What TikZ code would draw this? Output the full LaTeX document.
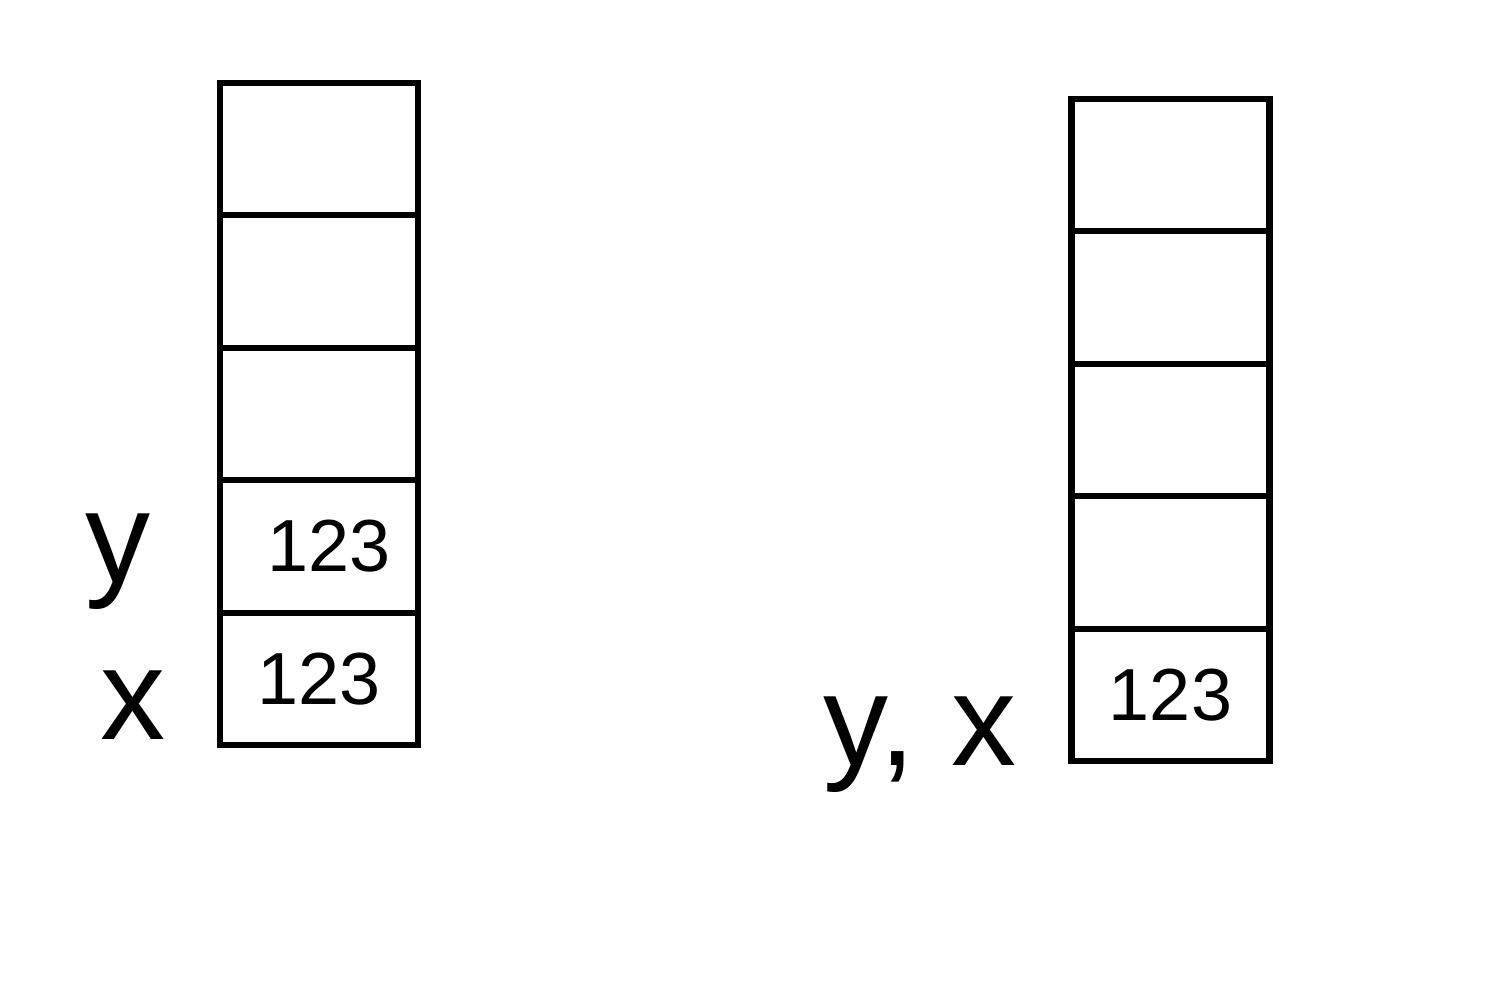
\documentclass[tikz,border=0pt]{standalone}
\usepackage{fontspec}
\setmainfont{Liberation Sans}
\usetikzlibrary{positioning}

\begin{document}
\begin{tikzpicture}[-,auto,node distance=1.325cm]
        \tikzstyle{cell}=[draw, rectangle, line width=1.8pt, outer sep=0pt, minimum height=1.325cm, minimum width=1.98cm, font=\fontsize{21}{24}\selectfont]
        \tikzstyle{var}=[font=\fontsize{37}{42}\selectfont]
        \useasboundingbox (0,-9.8) rectangle (14.9,0);
        % left stack
        \node[cell]  (l1) at (3.19,-6.79)   {123\hspace{0.2cm}};
        \node[cell]  (l2) [above of=l1]     {\hspace{0.2cm}123};
        \node[cell]  (l3) [above of=l2]     {};
        \node[cell]  (l4) [above of=l3]     {};
        \node[cell]  (l5) [above of=l4]     {};
        \node[var]   (x)  at (1.33,-7.05)   {x};
        \node[var]   (y)  at (1.18,-5.62)   {y};
        % right stack
        \node[cell]  (r1) at (11.705,-6.95) {123};
        \node[cell]  (r2) [above of=r1]     {};
        \node[cell]  (r3) [above of=r2]     {};
        \node[cell]  (r4) [above of=r3]     {};
        \node[cell]  (r5) [above of=r4]     {};
        \node[var]   (yx) at (9.2,-7.45)    {y, x};
    \end{tikzpicture}
\end{document}
